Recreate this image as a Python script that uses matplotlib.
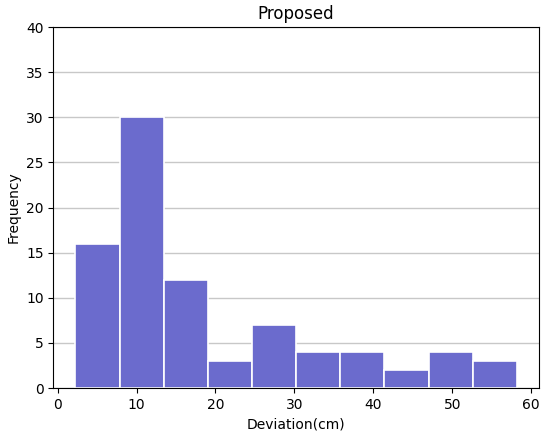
import matplotlib.pyplot as plt
import numpy as np

counts = [16, 30, 12, 3, 7, 4, 4, 2, 4, 3]
dev_min = 2.25
dev_max = 58.2

edges = np.linspace(dev_min, dev_max, len(counts) + 1)
centers = (edges[:-1] + edges[1:]) / 2

fig, ax = plt.subplots(figsize=(5.5, 4.36), dpi=100)
ax.hist(centers, bins=edges, weights=counts, color='#6b6bcd', edgecolor='white', linewidth=1.2)
ax.set_axisbelow(True)
ax.grid(axis='y', color='#c8c8c8', linewidth=1)
ax.set_ylim(0, 40)
ax.set_xlabel('Deviation(cm)')
ax.set_ylabel('Frequency')
ax.set_title('Proposed')
plt.subplots_adjust(left=0.097, right=0.98, top=0.938, bottom=0.11)
plt.savefig('out.png')
